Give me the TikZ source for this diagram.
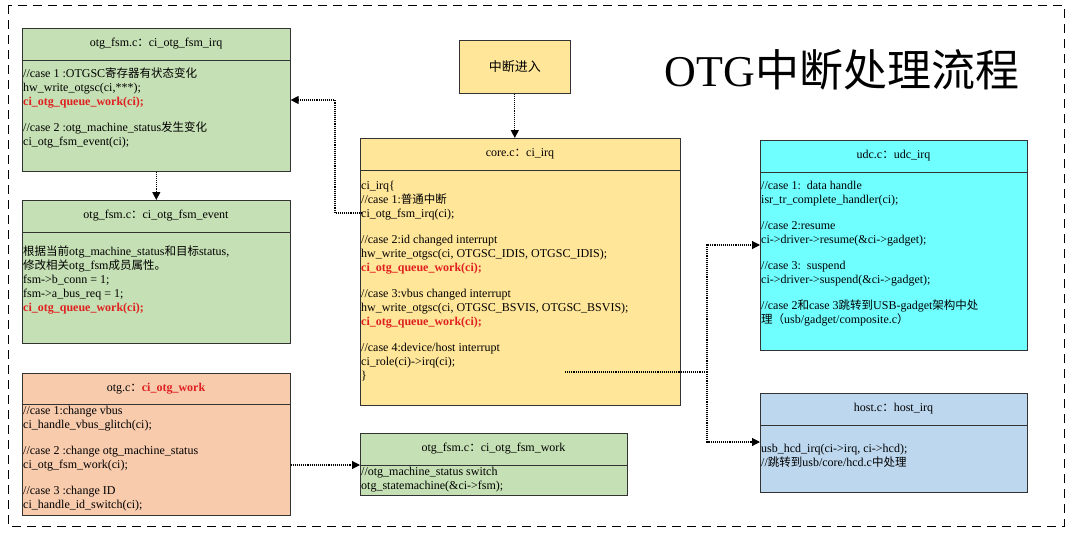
\documentclass[tikz,border=0pt]{standalone}
\usepackage{fontspec}
\setmainfont{Liberation Serif}
\newfontfamily\zh{Noto Sans CJK SC}
\usetikzlibrary{arrows.meta}
\definecolor{cgreen}{HTML}{C5E0B4}
\definecolor{cyel}{HTML}{FFE699}
\definecolor{ccyan}{HTML}{70FFFF}
\definecolor{cblue}{HTML}{BDD7EE}
\definecolor{corange}{HTML}{F8CBAD}
\definecolor{cred}{HTML}{E02020}
\newcommand{\rd}[1]{{\color{cred}\bfseries #1}}
\newcommand{\Z}[1]{{\zh\fontsize{11.5}{14}\selectfont #1}}
\tikzset{
  x=1pt,y=-1pt,
  boxframe/.style={draw=black!80, line width=0.6pt},
  bodytxt/.style={anchor=north west, inner sep=0pt, align=left, font=\fontsize{12}{14}\selectfont},
  headtxt/.style={inner sep=0pt, font=\fontsize{12}{14}\selectfont},
  conn/.style={densely dotted, line width=1.1pt, -{Triangle[length=8pt,width=8pt]}},
}
\newcommand{\ubox}[8]{%
  \node[boxframe, fill=#6, minimum width=#3-#1, minimum height=#4-#2, inner sep=0pt, anchor=north west] (#8) at (#1,#2) {};
  \draw[black!80, line width=0.6pt] (#1,#5) -- (#3,#5);
  \node[headtxt] (#8h) at ({(#1+#3)/2},{(#2+#5)/2}) {#7};
}
\begin{document}
\begin{tikzpicture}
\useasboundingbox (0,0) rectangle (1072,533);
\draw[dashed, dash pattern=on 9pt off 6pt, line width=0.8pt] (8,5) rectangle (1064,526);
\node[font=\fontsize{44}{50}\selectfont, inner sep=0pt] (title) at (842,70) {OTG\zh 中断处理流程};

\ubox{22}{28}{290}{171}{60}{cgreen}{otg\_fsm.c\Z{：}ci\_otg\_fsm\_irq}{irq}
\node[bodytxt] (irqb) at (23,68) {//case 1 :OTGSC\Z{寄存器有状态变化}\\hw\_write\_otgsc(ci,***);\\\rd{ci\_otg\_queue\_work(ci);}\\[12pt]//case 2 :otg\_machine\_status\Z{发生变化}\\ci\_otg\_fsm\_event(ci);};

\ubox{22}{200}{290}{343}{232}{cgreen}{otg\_fsm.c\Z{：}ci\_otg\_fsm\_event}{ev}
\node[bodytxt] (evb) at (23,246) {\Z{根据当前}otg\_machine\_status\Z{和目标}status,\\\Z{修改相关}otg\_fsm\Z{成员属性。}\\fsm->b\_conn = 1;\\fsm->a\_bus\_req = 1;\\\rd{ci\_otg\_queue\_work(ci);}};

\ubox{22}{373}{290}{515}{404}{corange}{otg.c\Z{：}\rd{ci\_otg\_work}}{work}
\node[bodytxt] (workb) at (23,406) {//case 1:change vbus\\ci\_handle\_vbus\_glitch(ci);\\[12pt]//case 2 :change otg\_machine\_status\\ci\_otg\_fsm\_work(ci);\\[12pt]//case 3 :change ID\\ci\_handle\_id\_switch(ci);};

\ubox{360}{433}{627}{495}{465}{cgreen}{otg\_fsm.c\Z{：}ci\_otg\_fsm\_work}{fw}
\node[bodytxt] (fwb) at (361,467) {//otg\_machine\_status switch\\otg\_statemachine(\&ci->fsm);};

\node[boxframe, fill=cyel, minimum width=111, minimum height=53, inner sep=0pt, anchor=north west, font=\zh\fontsize{13}{15}\selectfont] (entry) at (459,40) {中断进入};

\ubox{360}{138}{680}{405}{170}{cyel}{core.c\Z{：}ci\_irq}{core}
\node[bodytxt] (coreb) at (361,181) {ci\_irq\{\\//case 1:\Z{普通中断}\\ci\_otg\_fsm\_irq(ci);\\[12pt]//case 2:id changed interrupt\\hw\_write\_otgsc(ci, OTGSC\_IDIS, OTGSC\_IDIS);\\\rd{ci\_otg\_queue\_work(ci);}\\[12pt]//case 3:vbus changed interrupt\\hw\_write\_otgsc(ci, OTGSC\_BSVIS, OTGSC\_BSVIS);\\\rd{ci\_otg\_queue\_work(ci);}\\[12pt]//case 4:device/host interrupt\\ci\_role(ci)->irq(ci);\\\}};

\ubox{760}{140}{1027}{350}{172}{ccyan}{udc.c\Z{：}udc\_irq}{udc}
\node[bodytxt] (udcb) at (761,181) {//case 1:\ \ data handle\\isr\_tr\_complete\_handler(ci);\\[12pt]//case 2:resume\\ci->driver->resume(\&ci->gadget);\\[12pt]//case 3:\ \ suspend\\ci->driver->suspend(\&ci->gadget);\\[12pt]//case 2\Z{和}case 3\Z{跳转到}USB-gadget\Z{架构中处}\\\Z{理（}usb/gadget/composite.c\Z{）}};

\ubox{760}{393}{1027}{492}{425}{cblue}{host.c\Z{：}host\_irq}{host}
\node[bodytxt] (hostb) at (761,444) {usb\_hcd\_irq(ci->irq, ci->hcd);\\//\Z{跳转到}usb/core/hcd.c\Z{中处理}};

\coordinate (c1) at (362,213);
\coordinate (c2) at (565,372);
\coordinate (sp) at (707,372);
\draw[conn] (c1) -| (335,100) -- (irq.east |- 0,100);
\draw[conn] (irq.south) -- (ev.north);
\draw[conn] (entry.south) -- (core.north -| entry.south);
\draw[conn] (work.east |- 0,465) -- (fw.west |- 0,465);
\draw[densely dotted, line width=1.1pt] (c2) -- (sp);
\draw[conn] (sp) |- (udc.west |- 0,245);
\draw[conn] (sp) |- (host.west |- 0,442);
\end{tikzpicture}
\end{document}
